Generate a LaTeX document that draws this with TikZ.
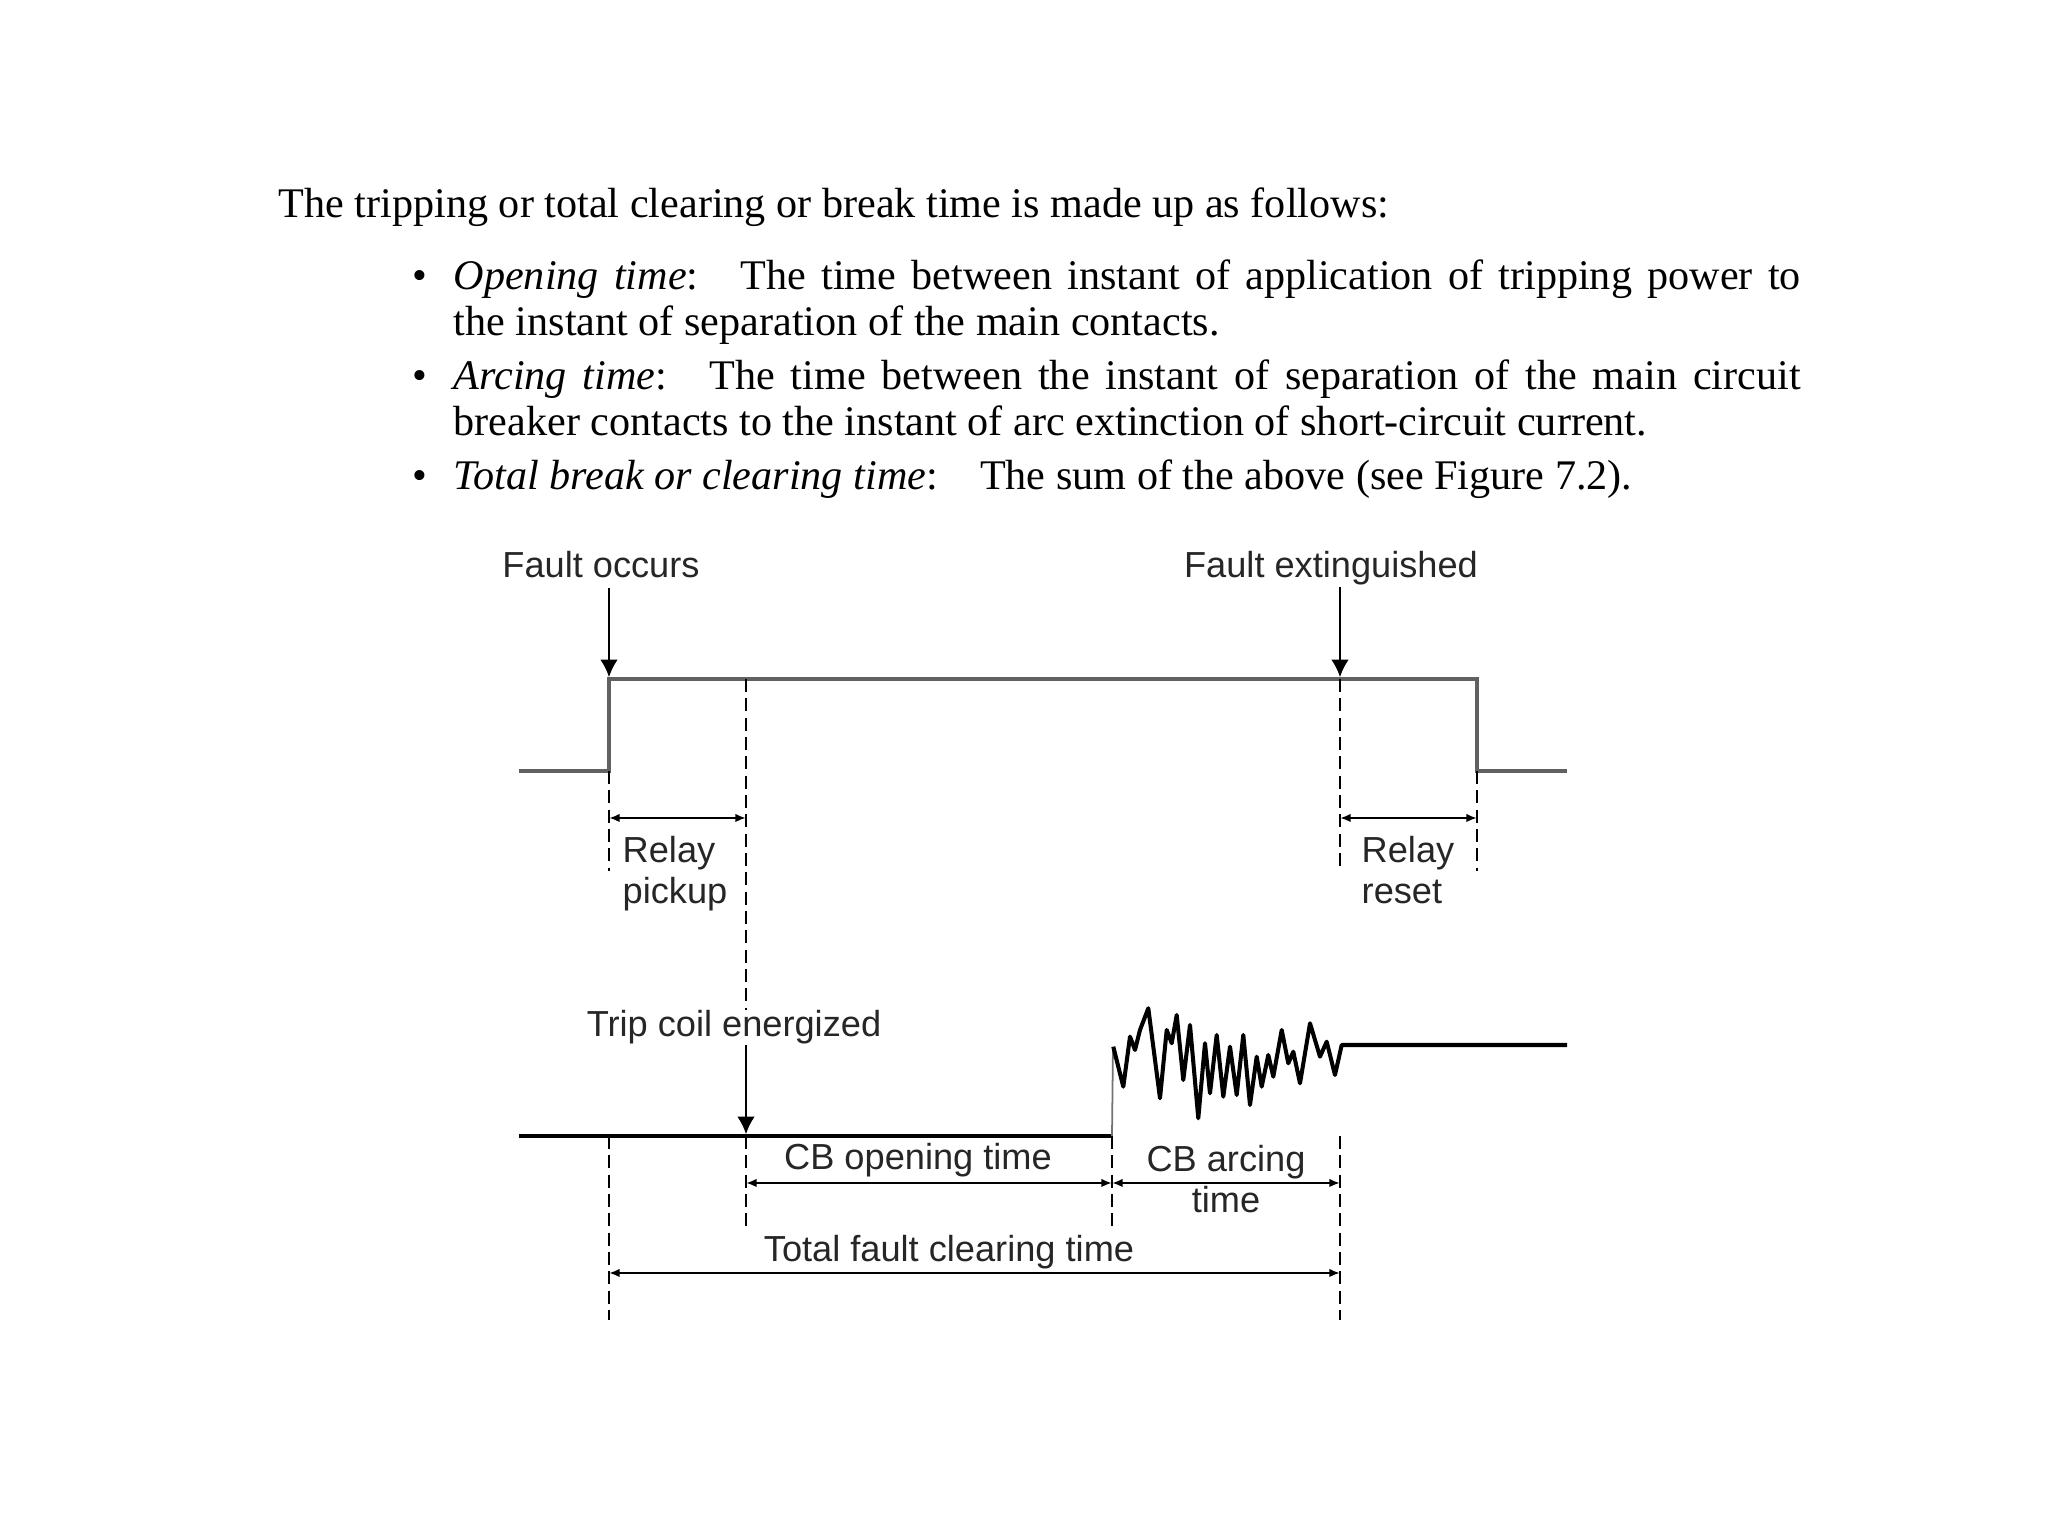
\documentclass[tikz,border=0pt]{standalone}
\usepackage{fontspec}
\setmainfont{Liberation Serif}
\newfontfamily\diagfont{Liberation Sans}
\usetikzlibrary{arrows.meta}

\begin{document}
\begin{tikzpicture}[
    body/.style={inner sep=0pt, font=\fontsize{12}{13}\selectfont},
    lbl/.style={inner sep=0pt, font=\diagfont\fontsize{10.3}{11.6}\selectfont, text=black!85},
    wave/.style={line width=1.1pt, black!62},
    dim/.style={{Latex[length=3pt,width=2.4pt]}-{Latex[length=3pt,width=2.4pt]}, line width=0.65pt},
    evt/.style={-{Latex[length=5pt,width=5pt]}, line width=0.6pt},
    guide/.style={line width=0.5pt, dash pattern=on 3.7pt off 1.8pt},
  ]
  \useasboundingbox (0,0) rectangle (20.48,15.36);
  % text above the figure
  \node[body, anchor=base west] (intro) at (2.78,13.18)
    {The tripping or total clearing or break time is made up as follows:};
  \node[body, anchor=base] (bul1) at (4.20,12.46) {\textbullet};
  \node[body, anchor=base west, text width=13.47cm, align=justify] (item1) at (4.53,12.46)
    {\textit{Opening time}:\hspace{1em}The time between instant of application of tripping power to\linebreak
     the instant of separation of the main contacts.};
  \node[body, anchor=base] (bul2) at (4.20,11.46) {\textbullet};
  \node[body, anchor=base west, text width=13.47cm, align=justify] (item2) at (4.53,11.46)
    {\textit{Arcing time}:\hspace{1em}The time between the instant of separation of the main circuit\linebreak
     breaker contacts to the instant of arc extinction of short-circuit current.};
  \node[body, anchor=base] (bul3) at (4.20,10.46) {\textbullet};
  \node[body, anchor=base west] (item3) at (4.53,10.46)
    {\textit{Total break or clearing time}:\hspace{1em}The sum of the above (see Figure 7.2).};

  % time instants and levels
  \foreach \n/\x in {left/5.19, f/6.09, p/7.46, s/11.12, e/13.40, r/14.77, right/15.67}
    \coordinate (\n) at (\x,0);
  \foreach \n/\y in {hi/8.57, lo/7.65, rel/7.18, relend/6.65, arc/4.91, bas/4.00,
                     cbd/3.53, cbend/3.06, tot/2.63, totend/2.16}
    \coordinate (\n) at (0,\y);

  % relay signal
  \draw[wave] (left |- lo) -- (f |- lo) -- (f |- hi) -- (r |- hi) -- (r |- lo) -- (right |- lo);
  \node[lbl, anchor=base] (fo) at (6.01,9.58) {Fault occurs};
  \node[lbl, anchor=base] (fx) at (13.31,9.58) {Fault extinguished};
  \draw[evt, shorten <=2.6pt] (fo.south -| f) -- ([yshift=0.5pt]f |- hi);
  \draw[evt, shorten <=2.6pt] (fx.base -| e) -- ([yshift=0.5pt]e |- hi);

  % relay pickup and reset
  \draw[guide] (f |- lo) -- (f |- relend);
  \draw[guide] (e |- hi) -- (e |- relend);
  \draw[guide] (r |- lo) -- (r |- relend);
  \draw[dim] (f |- rel) -- (p |- rel);
  \draw[dim] (e |- rel) -- (r |- rel);
  \node[lbl, anchor=north west, align=left] (pick) at (6.22,7.00) {Relay\\pickup};
  \node[lbl, anchor=north west, align=left] (reset) at (13.61,7.00) {Relay\\reset};

  % trip coil
  \node[lbl, anchor=base] (tc) at (7.34,4.99) {Trip coil energized};
  \draw[guide] (p |- hi) -- (tc.north -| p);
  \draw[evt] (tc.south -| p) -- ([yshift=0.5pt]p |- bas);

  % breaker current
  \draw[line width=1.1pt] (left |- bas) -- (s |- bas);
  \draw[line width=0.5pt, black!55] (s |- bas) -- (11.13,4.89);
  \draw[line width=1.15pt, line join=round] plot coordinates {
    (11.133,4.893) (11.233,4.493) (11.30,4.993) (11.35,4.86) (11.40,5.06)
    (11.483,5.277) (11.60,4.377) (11.667,5.06) (11.717,4.927) (11.767,5.21)
    (11.833,4.56) (11.90,5.11) (11.983,4.177) (12.05,4.927) (12.10,4.427)
    (12.167,5.01) (12.233,4.393) (12.30,4.893) (12.367,4.41) (12.433,5.01)
    (12.50,4.31) (12.567,4.793) (12.617,4.493) (12.683,4.81) (12.733,4.593)
    (12.817,5.06) (12.883,4.727) (12.933,4.843) (13.00,4.527) (13.10,5.127)
    (13.20,4.793) (13.267,4.943) (13.35,4.61) (13.417,4.91)}
    -- (right |- arc);

  % breaker times
  \draw[guide] (f |- bas) -- (f |- totend);
  \draw[guide] (p |- bas) -- (p |- cbend);
  \draw[guide] (s |- bas) -- (s |- cbend);
  \draw[guide] (e |- bas) -- (e |- totend);
  \draw[dim] (p |- cbd) -- (s |- cbd);
  \draw[dim] (s |- cbd) -- (e |- cbd);
  \draw[dim] (f |- tot) -- (e |- tot);
  \node[lbl] (open) at (9.18,3.76) {CB opening time};
  \node[lbl, align=center] (arcing) at (12.26,3.57) {CB arcing\\time};
  \node[lbl] (total) at (9.49,2.84) {Total fault clearing time};
\end{tikzpicture}
\end{document}
